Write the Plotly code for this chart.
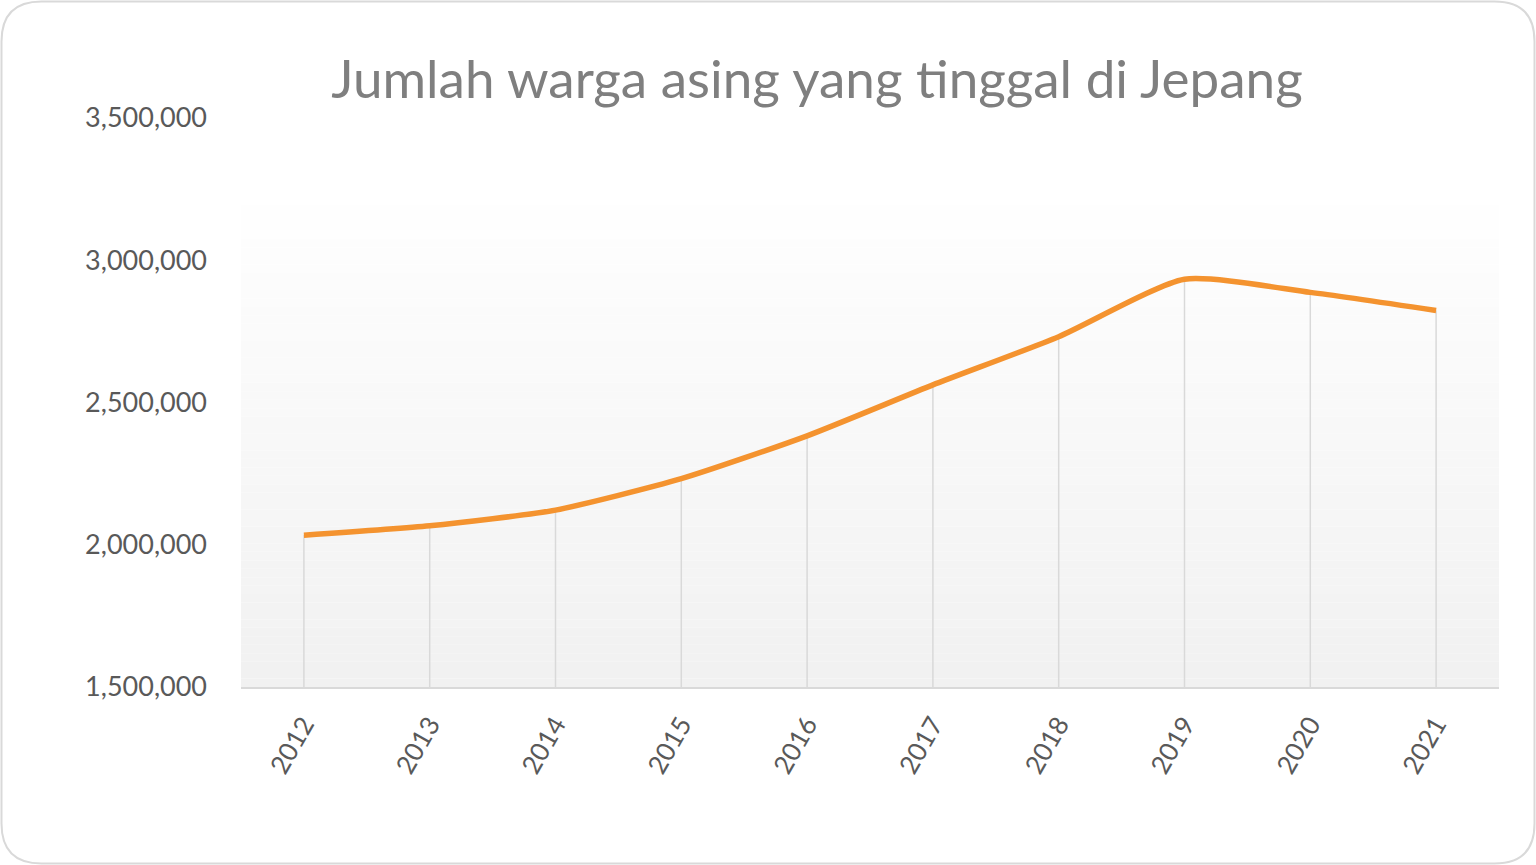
import plotly.graph_objects as go

years = ["2012", "2013", "2014", "2015", "2016", "2017", "2018", "2019", "2020", "2021"]
residents = [2033656, 2066445, 2121831, 2232189, 2382822, 2561848, 2731093, 2933137, 2887116, 2823565]
y_ticks = [1500000, 2000000, 2500000, 3000000, 3500000]
title_text = "Jumlah warga asing yang tinggal di Jepang"

W, H = 1536, 865
ML, MR, MT, MB = 241, 37, 118, 178
PW, PH = W - ML - MR, H - MT - MB

def px(x):
    return (x - ML) / PW

def py(y):
    return (H - MB - y) / PH

fig = go.Figure()

# drop lines from each point to the axis
dx, dy = [], []
for yr, v in zip(years, residents):
    dx += [yr, yr, None]
    dy += [v, y_ticks[0], None]
fig.add_trace(go.Scatter(x=dx, y=dy, mode="lines",
                         line=dict(color="#d9d9d9", width=1.5),
                         hoverinfo="skip", showlegend=False))

fig.add_trace(go.Scatter(x=years, y=residents, mode="lines",
                         line=dict(color="#F4932F", width=5.5, shape="spline", smoothing=0.6),
                         showlegend=False))

shapes = []
# gradient background of plot area
top_px, bot_px = 180, 687
n = 60
for i in range(n):
    t = i / (n - 1)
    g = round(255 - (255 - 241) * t)
    y0 = top_px + (bot_px - top_px) * i / n
    y1 = top_px + (bot_px - top_px) * (i + 1) / n
    shapes.append(dict(type="rect", xref="paper", yref="paper",
                       x0=0, x1=1, y0=py(y1), y1=py(y0),
                       fillcolor=f"rgb({g},{g},{g})", line=dict(width=0), layer="below"))

# rounded outer border
r = 40
x0, x1, y0, y1 = 1.5, W - 1.5, 1.5, H - 1.5
path = (f"M {px(x0 + r)},{py(y0)} L {px(x1 - r)},{py(y0)} "
        f"Q {px(x1)},{py(y0)} {px(x1)},{py(y0 + r)} "
        f"L {px(x1)},{py(y1 - r)} Q {px(x1)},{py(y1)} {px(x1 - r)},{py(y1)} "
        f"L {px(x0 + r)},{py(y1)} Q {px(x0)},{py(y1)} {px(x0)},{py(y1 - r)} "
        f"L {px(x0)},{py(y0 + r)} Q {px(x0)},{py(y0)} {px(x0 + r)},{py(y0)} Z")
shapes.append(dict(type="path", xref="paper", yref="paper", path=path,
                   line=dict(color="#d9d9d9", width=2), fillcolor="rgba(0,0,0,0)", layer="above"))

fig.update_layout(
    width=W, height=H,
    margin=dict(l=ML, r=MR, t=MT, b=MB),
    paper_bgcolor="white", plot_bgcolor="white",
    font=dict(family="Lato", color="#595959"),
    title=dict(text=title_text, x=(817 - ML) / PW, xref="paper", xanchor="center",
               y=1 - 79 / H, yanchor="middle",
               font=dict(family="Lato", size=53, color="#7f7f7f")),
    shapes=shapes,
    xaxis=dict(type="category", range=[-0.5, 9.5], showgrid=False, zeroline=False,
               showline=True, linecolor="#d9d9d9", linewidth=2,
               tickangle=-60, tickfont=dict(size=26, color="#595959"), ticks="",
               ticklabelstandoff=10),
    yaxis=dict(range=[1500000, 3500000], tickvals=y_ticks, tickformat=",",
               showgrid=False, zeroline=False, showline=False,
               tickfont=dict(size=27, color="#595959"), ticks="", ticklabelstandoff=33),
)

fig.write_html("out.html")
